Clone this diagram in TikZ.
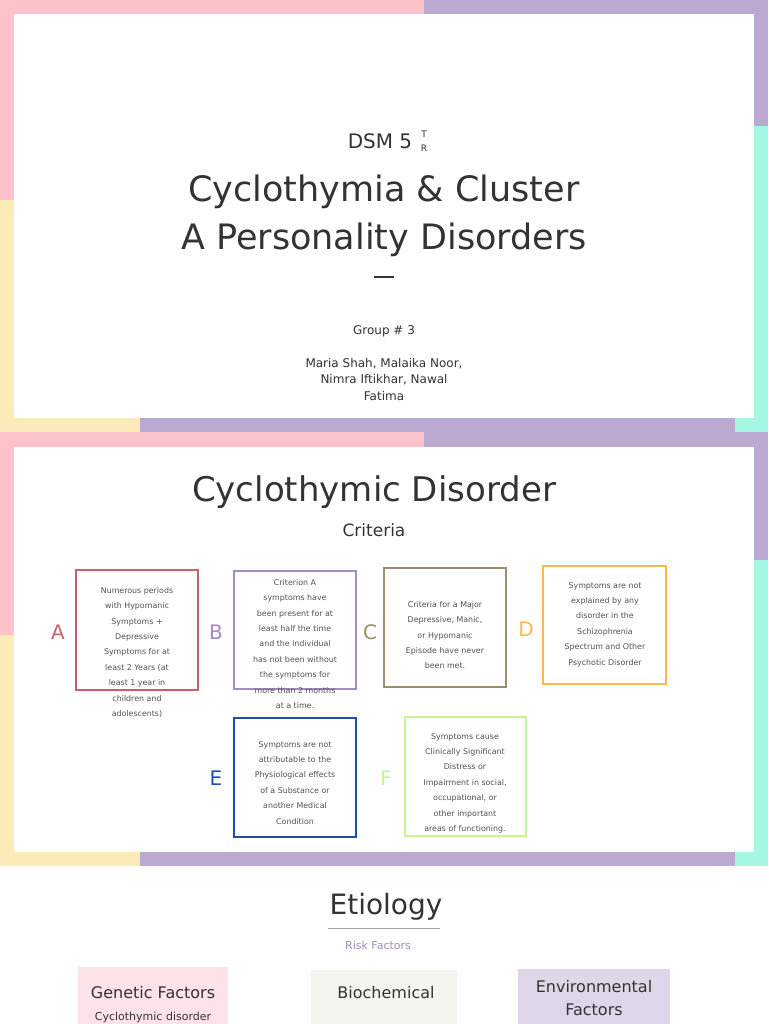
\documentclass[tikz,border=0pt]{standalone}
\usepackage{fontspec}
\setmainfont{DejaVu Sans}
\definecolor{pk}{HTML}{FDC3CB}
\definecolor{pu}{HTML}{BCA9D1}
\definecolor{ye}{HTML}{FAEBB8}
\definecolor{te}{HTML}{A5F7E3}
\definecolor{tx}{HTML}{333333}
\definecolor{cA}{HTML}{C8606A}
\definecolor{cB}{HTML}{A58AC6}
\definecolor{cC}{HTML}{9A8F6A}
\definecolor{cD}{HTML}{FFB84D}
\definecolor{cE}{HTML}{1A4FB0}
\definecolor{cF}{HTML}{C6F58A}
\definecolor{bx1}{HTML}{FDE2E7}
\definecolor{bx2}{HTML}{F5F5F0}
\definecolor{bx3}{HTML}{E0D6EA}
\newcommand{\fs}[1]{\fontsize{#1pt}{1.2\dimexpr#1pt\relax}\selectfont}
\begin{document}
\begin{tikzpicture}[x=1pt,y=-1pt,
  crit/.style={draw=#1,line width=1.2pt},
  ctext/.style={text=tx!85,align=center,anchor=north,font=\fontsize{7.9pt}{15.4pt}\selectfont,inner sep=0pt},
  letter/.style={text=#1,font=\fs{20}},
  t/.style={text=tx,inner sep=0pt}]
\useasboundingbox (0,0) rectangle (768,1024);
\fill[white] (0,0) rectangle (768,1024);
% slide 1 frame
\fill[pk] (0,0) rectangle (424,14);
\fill[pu] (424,0) rectangle (768,14);
\fill[pu] (754,0) rectangle (768,126);
\fill[te] (754,126) rectangle (768,432);
\fill[pk] (0,0) rectangle (14,200);
\fill[ye] (0,200) rectangle (14,432);
\fill[ye] (0,418) rectangle (140,432);
\fill[pu] (140,418) rectangle (735,432);
\fill[te] (735,418) rectangle (768,432);
% slide 2 frame
\fill[pk] (0,432) rectangle (424,447);
\fill[pu] (424,432) rectangle (768,447);
\fill[pu] (754,432) rectangle (768,560);
\fill[te] (754,560) rectangle (768,866);
\fill[pk] (0,432) rectangle (14,635);
\fill[ye] (0,635) rectangle (14,866);
\fill[ye] (0,852) rectangle (140,866);
\fill[pu] (140,852) rectangle (735,866);
\fill[te] (735,852) rectangle (768,866);
% slide 1 text
\node[t,font=\fs{20}] (dsm) at (380,141) {DSM 5};
\node[t,font=\fs{9}] (tT) at (424,134) {T};
\node[t,font=\fs{9}] (tR) at (424,148) {R};
\node[t,font=\fs{35}] (t1) at (384,192) {Cyclothymia \& Cluster};
\node[t,font=\fs{35}] (t2) at (384,240) {A Personality Disorders};
\draw[tx,line width=1.5pt] (374,277) -- (394,277);
\node[t,font=\fs{12}] (grp) at (384,331) {Group \# 3};
\node[t,font=\fontsize{12pt}{16.6pt}\selectfont,align=center,anchor=north] (names) at (384,358) {Maria Shah, Malaika Noor,\\Nimra Iftikhar, Nawal\\Fatima};
% slide 2
\node[t,font=\fs{34}] (cd) at (374,492) {Cyclothymic Disorder};
\node[t,font=\fs{17}] (cr) at (374,530) {Criteria};
\draw[crit=cA] (76,570) rectangle (198,690);
\draw[crit=cB] (234,571) rectangle (356,689);
\draw[crit=cC] (384,568) rectangle (506,687);
\draw[crit=cD] (543,566) rectangle (666,684);
\draw[crit=cE] (234,718) rectangle (356,837);
\draw[crit=cF] (405,717) rectangle (526,836);
\node[letter=cA] (lA) at (58,632) {A};
\node[letter=cB] (lB) at (216,632) {B};
\node[letter=cC] (lC) at (370,632) {C};
\node[letter=cD] (lD) at (526,629) {D};
\node[letter=cE] (lE) at (216,778) {E};
\node[letter=cF] (lF) at (386,778) {F};
\node[ctext] (xA) at (137,587) {Numerous periods\\with Hypomanic\\Symptoms +\\Depressive\\Symptoms for at\\least 2 Years (at\\least 1 year in\\children and\\adolescents)};
\node[ctext] (xB) at (295,579) {Criterion A\\symptoms have\\been present for at\\least half the time\\and the individual\\has not been without\\the symptoms for\\more than 2 months\\at a time.};
\node[ctext] (xC) at (445,601) {Criteria for a Major\\Depressive, Manic,\\or Hypomanic\\Episode have never\\been met.};
\node[ctext] (xD) at (605,582) {Symptoms are not\\explained by any\\disorder in the\\Schizophrenia\\Spectrum and Other\\Psychotic Disorder};
\node[ctext] (xE) at (295,741) {Symptoms are not\\attributable to the\\Physiological effects\\of a Substance or\\another Medical\\Condition};
\node[ctext] (xF) at (465,733) {Symptoms cause\\Clinically Significant\\Distress or\\Impairment in social,\\occupational, or\\other important\\areas of functioning.};
% slide 3
\node[t,font=\fs{28}] (et) at (386,907) {Etiology};
\draw[gray!70,line width=0.8pt] (328,928) -- (440,928);
\node[t,font=\fs{11},text=cB] (rf) at (378,945) {Risk Factors};
\fill[bx1] (78,967) rectangle (228,1024);
\fill[bx2] (311,970) rectangle (457,1024);
\fill[bx3] (518,969) rectangle (670,1024);
\node[t,font=\fs{16}] (gf) at (153,993) {Genetic Factors};
\node[t,font=\fs{11}] (cy) at (153,1017) {Cyclothymic disorder};
\node[t,font=\fs{16}] (bc) at (386,993) {Biochemical};
\node[t,font=\fontsize{16pt}{23pt}\selectfont,align=center] (ef) at (594,998) {Environmental\\Factors};
\end{tikzpicture}
\end{document}
